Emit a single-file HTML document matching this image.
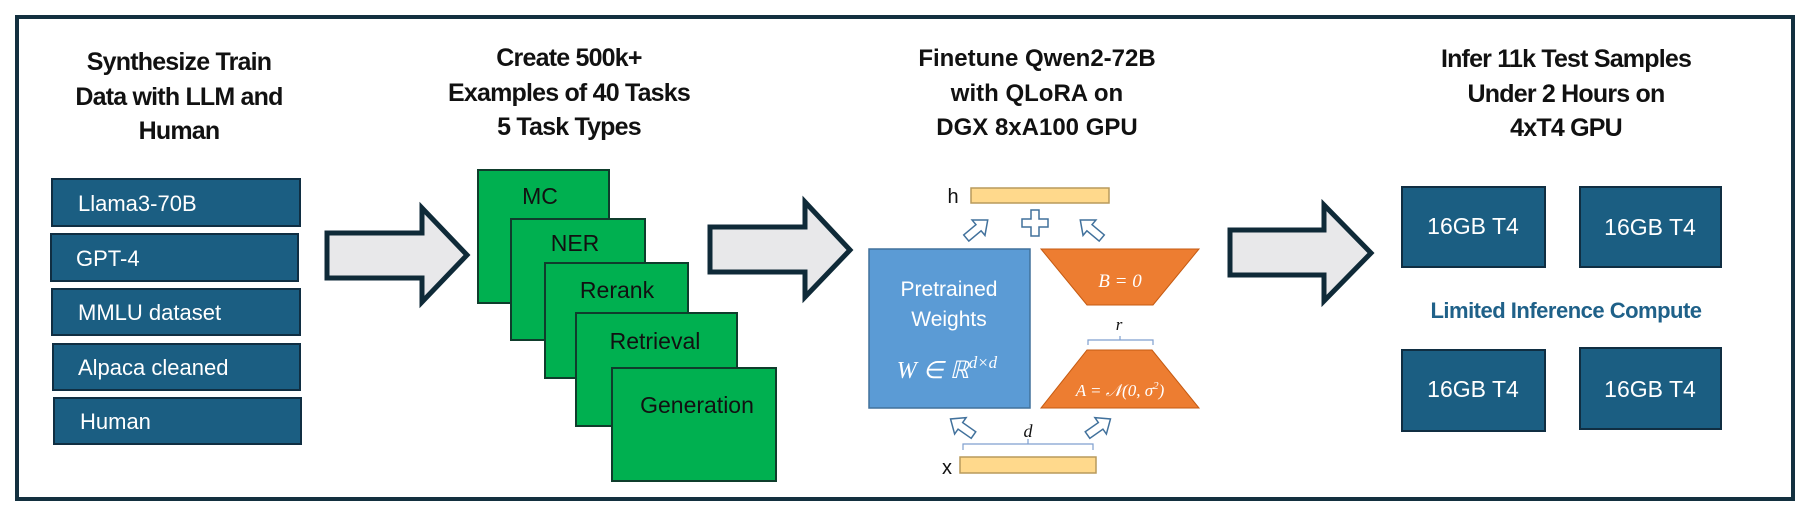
<!DOCTYPE html>
<html><head><meta charset="utf-8"><style>
html,body{margin:0;padding:0;background:#fff;}
svg{display:block;}
.t{font-family:"Liberation Sans",sans-serif;font-weight:bold;font-size:24px;fill:#111;text-anchor:middle;}
.tc{font-family:"Liberation Sans",sans-serif;font-weight:bold;font-size:25px;fill:#111;text-anchor:middle;letter-spacing:-0.8px;}
.bl{font-family:"Liberation Sans",sans-serif;font-size:22px;fill:#fff;}
.gl{font-family:"Liberation Sans",sans-serif;font-size:23px;fill:#111;text-anchor:middle;}
.m{font-family:"Liberation Serif",serif;font-style:italic;fill:#fff;text-anchor:middle;}
</style></head><body>
<svg width="1811" height="516" viewBox="0 0 1811 516" xmlns="http://www.w3.org/2000/svg">
<rect x="17" y="17" width="1776" height="482" fill="#fff" stroke="#13303f" stroke-width="4"/>

<!-- titles -->
<text class="tc" x="179" y="70">Synthesize Train</text>
<text class="tc" x="179" y="105">Data with LLM and</text>
<text class="tc" x="179" y="139">Human</text>
<text class="tc" x="569" y="66">Create 500k+</text>
<text class="tc" x="569" y="101">Examples of 40 Tasks</text>
<text class="tc" x="569" y="135">5 Task Types</text>
<text class="t" x="1037" y="66">Finetune Qwen2-72B</text>
<text class="t" x="1037" y="101">with QLoRA on</text>
<text class="t" x="1037" y="135">DGX 8xA100 GPU</text>
<text class="tc" x="1566" y="67">Infer 11k Test Samples</text>
<text class="tc" x="1566" y="102">Under 2 Hours on</text>
<text class="tc" x="1566" y="136">4xT4 GPU</text>

<!-- col1 boxes -->
<g fill="#1b5e82" stroke="#102e42" stroke-width="2">
<rect x="52" y="179" width="248" height="47"/>
<rect x="51" y="234" width="247" height="47"/>
<rect x="52" y="289" width="248" height="46"/>
<rect x="53" y="344" width="247" height="46"/>
<rect x="54" y="398" width="247" height="46"/>
</g>
<text class="bl" x="78" y="211">Llama3-70B</text>
<text class="bl" x="76" y="266">GPT-4</text>
<text class="bl" x="78" y="320">MMLU dataset</text>
<text class="bl" x="78" y="375">Alpaca cleaned</text>
<text class="bl" x="80" y="429">Human</text>

<!-- big arrows -->
<g fill="#e8e8ea" stroke="#0f2a38" stroke-width="5" stroke-linejoin="miter">
<polygon points="327,233 422,233 422,208 467,255 422,302 422,278 327,278"/>
<polygon points="710,227 805,227 805,202 850,250 805,297 805,272 710,272"/>
<polygon points="1230,230 1324,230 1324,205 1371,253 1324,301 1324,275 1230,275"/>
</g>

<!-- green cards -->
<g fill="#00b050" stroke="#0f3d2c" stroke-width="2">
<rect x="478" y="170" width="131" height="133"/>
<rect x="511" y="219" width="134" height="121"/>
<rect x="545" y="263" width="143" height="115"/>
<rect x="576" y="313" width="161" height="113"/>
<rect x="612" y="368" width="164" height="113"/>
</g>
<text class="gl" x="540" y="204">MC</text>
<text class="gl" x="575" y="251">NER</text>
<text class="gl" x="617" y="298">Rerank</text>
<text class="gl" x="655" y="349">Retrieval</text>
<text class="gl" x="697" y="413">Generation</text>

<!-- LoRA diagram -->
<rect x="971" y="188" width="138" height="15" fill="#ffd98c" stroke="#b89a5c" stroke-width="1.5"/>
<text x="953" y="203" font-family="Liberation Sans,sans-serif" font-size="20" fill="#111" text-anchor="middle">h</text>
<rect x="960" y="457" width="136" height="16" fill="#ffd98c" stroke="#b89a5c" stroke-width="1.5"/>
<text x="947" y="474" font-family="Liberation Sans,sans-serif" font-size="20" fill="#111" text-anchor="middle">x</text>

<rect x="869" y="249" width="161" height="159" fill="#5b9bd5" stroke="#41719c" stroke-width="1.5"/>
<text x="949" y="296" font-family="Liberation Sans,sans-serif" font-size="21" fill="#fff" text-anchor="middle">Pretrained</text>
<text x="949" y="326" font-family="Liberation Sans,sans-serif" font-size="21" fill="#fff" text-anchor="middle">Weights</text>
<text class="m" x="947" y="378" font-size="24">W ∈ ℝ<tspan font-size="17" dy="-10">d×d</tspan></text>

<polygon points="1041,249 1199,249 1153,305 1087,305" fill="#ed7d31" stroke="#c55a11" stroke-width="1"/>
<text class="m" x="1120" y="287" font-size="19">B = 0</text>
<polygon points="1087,350 1152,350 1199,408 1041,408" fill="#ed7d31" stroke="#c55a11" stroke-width="1"/>
<text class="m" x="1120" y="396" font-size="17">A = 𝒩(0, σ<tspan font-size="11" dy="-7">2</tspan><tspan dy="7">)</tspan></text>

<text class="m" x="1119" y="330" font-size="17" fill="#111" style="fill:#111">r</text>
<path d="M1088,345 v-5 h65 v5 M1120,340 v-4" fill="none" stroke="#7f9fcf" stroke-width="1.2"/>
<text class="m" x="1028" y="437" font-size="18" style="fill:#111">d</text>
<path d="M963,450 v-6 h130 v6 M1028,444 v-5" fill="none" stroke="#7f9fcf" stroke-width="1.2"/>

<!-- plus -->
<path d="M1031,210 h8 v9 h9 v8 h-9 v9 h-8 v-9 h-9 v-8 h9 z" fill="#fff" stroke="#41719c" stroke-width="1.5"/>

<!-- small hollow arrows -->
<g fill="#fff" stroke="#41719c" stroke-width="1.5">
<polygon points="-4,14 -4,-2 -10,-2 0,-14 10,-2 4,-2 4,14" transform="translate(977,229) rotate(50)"/>
<polygon points="-4,14 -4,-2 -10,-2 0,-14 10,-2 4,-2 4,14" transform="translate(1091,229) rotate(-50)"/>
<polygon points="-4,14 -4,-2 -10,-2 0,-14 10,-2 4,-2 4,14" transform="translate(962,427) rotate(-55)"/>
<polygon points="-4,14 -4,-2 -10,-2 0,-14 10,-2 4,-2 4,14" transform="translate(1099,427) rotate(55)"/>
</g>

<!-- T4 boxes -->
<g fill="#1b5e82" stroke="#102e42" stroke-width="2">
<rect x="1402" y="187" width="143" height="80"/>
<rect x="1580" y="187" width="141" height="80"/>
<rect x="1402" y="350" width="143" height="81"/>
<rect x="1580" y="348" width="141" height="81"/>
</g>
<g font-family="Liberation Sans,sans-serif" font-size="23" fill="#fff" text-anchor="middle">
<text x="1473" y="234">16GB T4</text>
<text x="1650" y="235">16GB T4</text>
<text x="1473" y="397">16GB T4</text>
<text x="1650" y="397">16GB T4</text>
</g>
<text x="1566" y="318" font-family="Liberation Sans,sans-serif" font-weight="bold" font-size="22" fill="#1f6189" text-anchor="middle" letter-spacing="-0.5">Limited Inference Compute</text>
</svg>
</body></html>
